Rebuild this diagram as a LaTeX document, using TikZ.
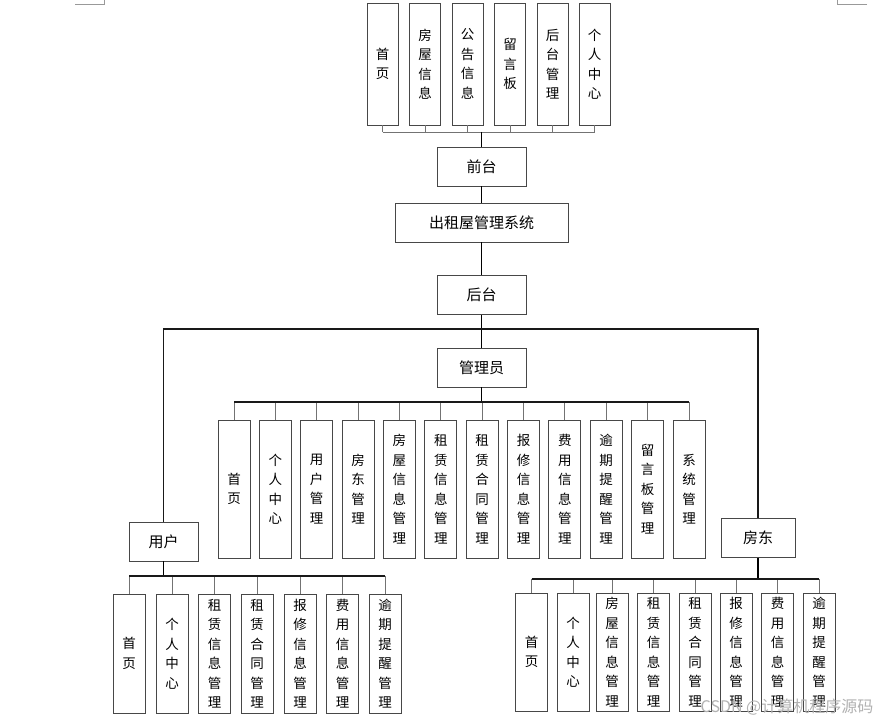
\documentclass[tikz,border=0pt]{standalone}
\usepackage{fontspec}
\newfontfamily\cjk{Noto Sans CJK SC}
\begin{document}
\begin{tikzpicture}[x=1pt,y=-1pt,
  box/.style={draw=black!72, line width=0.9pt, fill=white, inner sep=0pt},
  vbox/.style={box, minimum width=31pt, align=center, font=\cjk\fontsize{13.5}{19.5}\selectfont},
  hbox/.style={box, minimum height=39pt, font=\cjk\fontsize{15}{15}\selectfont},
  conn/.style={draw=black, line width=0.9pt},
  bus/.style={draw=black!90, line width=1.1pt},
  thickc/.style={draw=black, line width=1.8pt},
  stub/.style={draw=black!55, line width=0.9pt},
  cornermark/.style={draw=black!40, line width=0.6pt}
]
\useasboundingbox[fill=white] (0,0) rectangle (882,722);
% page corner marks
\draw[cornermark] (75,4) -- (104,4) -- (104,0);
\draw[cornermark] (867,4) -- (837,4) -- (837,0);

% top row (front end)
\begin{scope}[every node/.append style={vbox, minimum height=122pt}]
\node (t1) at (382.5,64) {首\\页};
\node (t2) at (425,64) {房\\屋\\信\\息};
\node (t3) at (467.5,64) {公\\告\\信\\息};
\node (t4) at (510,64) {留\\言\\板};
\node (t5) at (552.5,64) {后\\台\\管\\理};
\node (t6) at (594.5,64) {个\\人\\中\\心};
\end{scope}

\node[hbox, minimum width=89pt] (qt) at (481.5,166.5) {前台};
\node[hbox, minimum width=173pt] (sys) at (481.5,222.5) {出租屋管理系统};
\node[hbox, minimum width=89pt] (ht) at (481.5,295) {后台};
\node[hbox, minimum width=89pt] (gly) at (481.5,367.5) {管理员};
\node[hbox, minimum width=69pt] (yh) at (163.5,541.5) {用户};
\node[hbox, minimum width=74pt] (fd) at (758,538) {房东};

% admin row
\begin{scope}[every node/.append style={vbox, minimum width=32pt, minimum height=138pt}]
\node (a1) at (234,489) {首\\页};
\node (a2) at (275.4,489) {个\\人\\中\\心};
\node (a3) at (316.7,489) {用\\户\\管\\理};
\node (a4) at (358.1,489) {房\\东\\管\\理};
\node (a5) at (399.4,489) {房\\屋\\信\\息\\管\\理};
\node (a6) at (440.8,489) {租\\赁\\信\\息\\管\\理};
\node (a7) at (482.2,489) {租\\赁\\合\\同\\管\\理};
\node (a8) at (523.5,489) {报\\修\\信\\息\\管\\理};
\node (a9) at (564.9,489) {费\\用\\信\\息\\管\\理};
\node (a10) at (606.2,489) {逾\\期\\提\\醒\\管\\理};
\node (a11) at (647.6,489) {留\\言\\板\\管\\理};
\node (a12) at (689,489) {系\\统\\管\\理};
\end{scope}

% user row
\begin{scope}[every node/.append style={vbox, minimum width=32pt, minimum height=119pt}]
\node (u1) at (129,653.5) {首\\页};
\node (u2) at (172,653.5) {个\\人\\中\\心};
\node (u3) at (214.5,653.5) {租\\赁\\信\\息\\管\\理};
\node (u4) at (257,653.5) {租\\赁\\合\\同\\管\\理};
\node (u5) at (300,653.5) {报\\修\\信\\息\\管\\理};
\node (u6) at (342.5,653.5) {费\\用\\信\\息\\管\\理};
\node (u7) at (385,653.5) {逾\\期\\提\\醒\\管\\理};
\end{scope}

% landlord row
\begin{scope}[every node/.append style={vbox, minimum width=32pt, minimum height=118pt}]
\node (l1) at (531.5,652) {首\\页};
\node (l2) at (573,652) {个\\人\\中\\心};
\node (l3) at (612,652) {房\\屋\\信\\息\\管\\理};
\node (l4) at (653.5,652) {租\\赁\\信\\息\\管\\理};
\node (l5) at (695,652) {租\\赁\\合\\同\\管\\理};
\node (l6) at (736,652) {报\\修\\信\\息\\管\\理};
\node (l7) at (777.5,652) {费\\用\\信\\息\\管\\理};
\node (l8) at (819,652) {逾\\期\\提\\醒\\管\\理};
\end{scope}

% bus coordinates
\coordinate (tb) at (481.5,132);
\coordinate (hb) at (481.5,329);
\coordinate (ab) at (481.5,402);
\coordinate (ub) at (163.5,576);
\coordinate (lb) at (758,579);

% top row -> 前台
\foreach \n in {t1,t2,t3,t4,t5,t6} \draw[stub] (\n.south) -- (\n.south |- tb);
\draw[stub] (t1.south |- tb) -- (t6.south |- tb);
\draw[conn] (tb) -- (qt.north);

% spine
\draw[conn] (qt.south) -- (sys.north);
\draw[conn] (sys.south) -- (ht.north);
\draw[conn] (ht.south) -- (gly.north);
\draw[bus] (yh.north) |- (hb) -| (fd.north);

% admin children
\draw[conn] (gly.south) -- (ab);
\foreach \n in {a1,a2,a3,a4,a5,a6,a7,a8,a9,a10,a11,a12} \draw[stub] (\n.north) -- (\n.north |- ab);
\draw[bus] (a1.north |- ab) -- (a12.north |- ab);

% user children
\draw[thickc] (yh.south) -- (ub);
\foreach \n in {u1,u2,u3,u4,u5,u6,u7} \draw[stub] (\n.north) -- (\n.north |- ub);
\draw[bus] (u1.north |- ub) -- (u7.north |- ub);

% landlord children
\draw[thickc] (fd.south) -- (lb);
\foreach \n in {l1,l2,l3,l4,l5,l6,l7,l8} \draw[stub] (\n.north) -- (\n.north |- lb);
\draw[bus] (l1.north |- lb) -- (l8.north |- lb);

% watermark
\node[text=black!30, font=\cjk\fontsize{16}{16}\selectfont, inner sep=0pt] (wm) at (787,707) {CSDN @计算机程序源码};
\end{tikzpicture}
\end{document}
